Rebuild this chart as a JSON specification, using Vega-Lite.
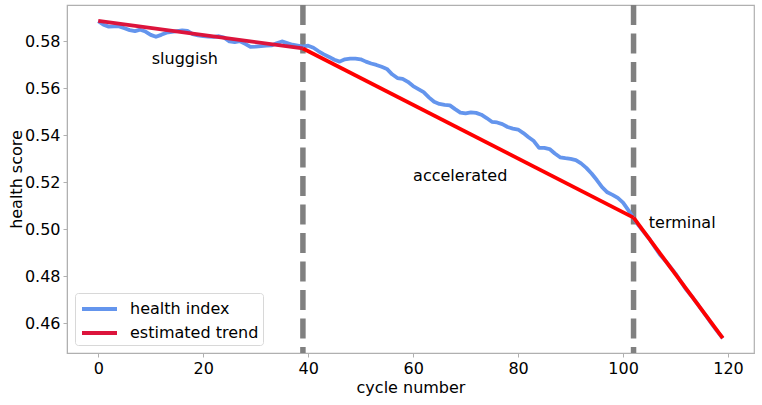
{
  "$schema": "https://vega.github.io/schema/vega-lite/v6.json",
  "width": 687,
  "height": 348,
  "autosize": "none",
  "padding": {"left": 67, "top": 5, "right": 8, "bottom": 52},
  "background": "white",
  "config": {
    "font": "DejaVu Sans",
    "view": {"stroke": "#b0b0b0", "strokeWidth": 1.2},
    "axis": {
      "labelFont": "DejaVu Sans", "titleFont": "DejaVu Sans",
      "labelFontSize": 16, "titleFontSize": 16, "titleFontWeight": "normal",
      "labelColor": "#000000", "titleColor": "#000000",
      "grid": false, "domainColor": "#b0b0b0", "tickColor": "#b0b0b0",
      "tickSize": 4, "labelPadding": 3
    }
  },
  "datasets": {
    "hi": [
      {"cycle":0,"score":0.5886},{"cycle":1,"score":0.5871},{"cycle":2,"score":0.5863},{"cycle":3,"score":0.5864},{"cycle":4,"score":0.5864},
      {"cycle":5,"score":0.5856},{"cycle":6,"score":0.5848},{"cycle":7,"score":0.5844},{"cycle":8,"score":0.5850},{"cycle":9,"score":0.5842},
      {"cycle":10,"score":0.5828},{"cycle":11,"score":0.5820},{"cycle":12,"score":0.5828},{"cycle":13,"score":0.5837},{"cycle":14,"score":0.5841},
      {"cycle":15,"score":0.5844},{"cycle":16,"score":0.5847},{"cycle":17,"score":0.5845},{"cycle":18,"score":0.5831},{"cycle":19,"score":0.5826},
      {"cycle":20,"score":0.5823},{"cycle":21,"score":0.5820},{"cycle":22,"score":0.5819},{"cycle":23,"score":0.5822},{"cycle":24,"score":0.5816},
      {"cycle":25,"score":0.5800},{"cycle":26,"score":0.5797},{"cycle":27,"score":0.5801},{"cycle":28,"score":0.5790},{"cycle":29,"score":0.5777},
      {"cycle":30,"score":0.5778},{"cycle":31,"score":0.5780},{"cycle":32,"score":0.5782},{"cycle":33,"score":0.5783},{"cycle":34,"score":0.5792},
      {"cycle":35,"score":0.5800},{"cycle":36,"score":0.5793},{"cycle":37,"score":0.5786},{"cycle":38,"score":0.5782},{"cycle":39,"score":0.5778},
      {"cycle":40,"score":0.5782},{"cycle":41,"score":0.5773},{"cycle":42,"score":0.5758},{"cycle":43,"score":0.5745},{"cycle":44,"score":0.5734},
      {"cycle":45,"score":0.5722},{"cycle":46,"score":0.5714},{"cycle":47,"score":0.5724},{"cycle":48,"score":0.5727},{"cycle":49,"score":0.5727},
      {"cycle":50,"score":0.5724},{"cycle":51,"score":0.5714},{"cycle":52,"score":0.5706},{"cycle":53,"score":0.5700},{"cycle":54,"score":0.5692},
      {"cycle":55,"score":0.5683},{"cycle":56,"score":0.5660},{"cycle":57,"score":0.5644},{"cycle":58,"score":0.5641},{"cycle":59,"score":0.5628},
      {"cycle":60,"score":0.5610},{"cycle":61,"score":0.5597},{"cycle":62,"score":0.5584},{"cycle":63,"score":0.5562},{"cycle":64,"score":0.5543},
      {"cycle":65,"score":0.5534},{"cycle":66,"score":0.5530},{"cycle":67,"score":0.5528},{"cycle":68,"score":0.5512},{"cycle":69,"score":0.5497},
      {"cycle":70,"score":0.5494},{"cycle":71,"score":0.5498},{"cycle":72,"score":0.5496},{"cycle":73,"score":0.5488},{"cycle":74,"score":0.5474},
      {"cycle":75,"score":0.5458},{"cycle":76,"score":0.5455},{"cycle":77,"score":0.5448},{"cycle":78,"score":0.5436},{"cycle":79,"score":0.5429},
      {"cycle":80,"score":0.5425},{"cycle":81,"score":0.5410},{"cycle":82,"score":0.5392},{"cycle":83,"score":0.5376},{"cycle":84,"score":0.5347},
      {"cycle":85,"score":0.5347},{"cycle":86,"score":0.5342},{"cycle":87,"score":0.5323},{"cycle":88,"score":0.5307},{"cycle":89,"score":0.5303},
      {"cycle":90,"score":0.5300},{"cycle":91,"score":0.5295},{"cycle":92,"score":0.5281},{"cycle":93,"score":0.5262},{"cycle":94,"score":0.5238},
      {"cycle":95,"score":0.5210},{"cycle":96,"score":0.5180},{"cycle":97,"score":0.5158},{"cycle":98,"score":0.5147},{"cycle":99,"score":0.5134},
      {"cycle":100,"score":0.5114},{"cycle":101,"score":0.5082},{"cycle":102,"score":0.5048},{"cycle":103,"score":0.5016},{"cycle":104,"score":0.4988},
      {"cycle":105,"score":0.4960},{"cycle":106,"score":0.4926},{"cycle":107,"score":0.4893},{"cycle":108,"score":0.4868},{"cycle":109,"score":0.4840},
      {"cycle":110,"score":0.4812},{"cycle":111,"score":0.4778},{"cycle":112,"score":0.4745},{"cycle":113,"score":0.4718},{"cycle":114,"score":0.4688},
      {"cycle":115,"score":0.4657},{"cycle":116,"score":0.4627},{"cycle":117,"score":0.4595},{"cycle":118,"score":0.4565},{"cycle":119,"score":0.4537}
    ],
    "trend": [
      {"cycle":0,"score":0.5887,"series":"estimated trend"},
      {"cycle":39,"score":0.5770,"series":"estimated trend"},
      {"cycle":39,"score":0.5770,"series":"trend accelerated"},
      {"cycle":102,"score":0.5050,"series":"trend accelerated"},
      {"cycle":102,"score":0.5050,"series":"trend terminal"},
      {"cycle":119,"score":0.4537,"series":"trend terminal"}
    ],
    "breaks": [{"cycle":39},{"cycle":102}],
    "labels": [
      {"cycle":10.2,"score":0.5726,"text":"sluggish"},
      {"cycle":60,"score":0.5228,"text":"accelerated"},
      {"cycle":104.9,"score":0.5028,"text":"terminal"}
    ]
  },
  "layer": [
    {
      "data": {"name": "breaks"},
      "mark": {"type": "rule", "color": "#808080", "strokeWidth": 5.5, "strokeDash": [20, 8.5]},
      "encoding": {"x": {"field": "cycle", "type": "quantitative"}}
    },
    {
      "data": {"name": "hi"},
      "transform": [{"calculate": "'health index'", "as": "series"}],
      "mark": {"type": "line", "strokeWidth": 3.8, "strokeJoin": "round", "strokeCap": "butt"},
      "encoding": {
        "x": {"field": "cycle", "type": "quantitative",
              "scale": {"domain": [-5.95, 124.95], "nice": false, "zero": false},
              "axis": {"values": [0,20,40,60,80,100,120], "title": "cycle number", "titlePadding": 3}},
        "y": {"field": "score", "type": "quantitative",
              "scale": {"domain": [0.4474, 0.5955], "nice": false, "zero": false},
              "axis": {"values": [0.46,0.48,0.50,0.52,0.54,0.56,0.58], "format": ".2f", "title": "health score", "titlePadding": 0}},
        "color": {"field": "series", "type": "nominal",
          "scale": {"domain": ["health index","estimated trend","trend accelerated","trend terminal"],
                    "range": ["#6495ED","#DC143C","#FF0000","#FF0000"]},
          "legend": {"values": ["health index","estimated trend"], "title": null,
                     "orient": "bottom-left", "offset": 8,
                     "symbolType": "M-1.75,0H1.75", "symbolSize": 400, "symbolStrokeWidth": 4,
                     "symbolOffset": 8.5,
                     "labelFontSize": 16, "labelFont": "DejaVu Sans", "labelColor": "#000000",
                     "labelOffset": 18.5, "rowPadding": 4, "padding": 4,
                     "fillColor": "white", "strokeColor": "#d8d8d8", "cornerRadius": 3}}
      }
    },
    {
      "data": {"name": "trend"},
      "mark": {"type": "line", "strokeWidth": 3.8, "strokeJoin": "round"},
      "encoding": {
        "x": {"field": "cycle", "type": "quantitative"},
        "y": {"field": "score", "type": "quantitative"},
        "color": {"field": "series", "type": "nominal"},
        "detail": {"field": "series"}
      }
    },
    {
      "data": {"name": "labels"},
      "mark": {"type": "text", "align": "left", "baseline": "middle", "fontSize": 16, "font": "DejaVu Sans", "color": "#000000"},
      "encoding": {
        "x": {"field": "cycle", "type": "quantitative"},
        "y": {"field": "score", "type": "quantitative"},
        "text": {"field": "text"}
      }
    }
  ]
}
